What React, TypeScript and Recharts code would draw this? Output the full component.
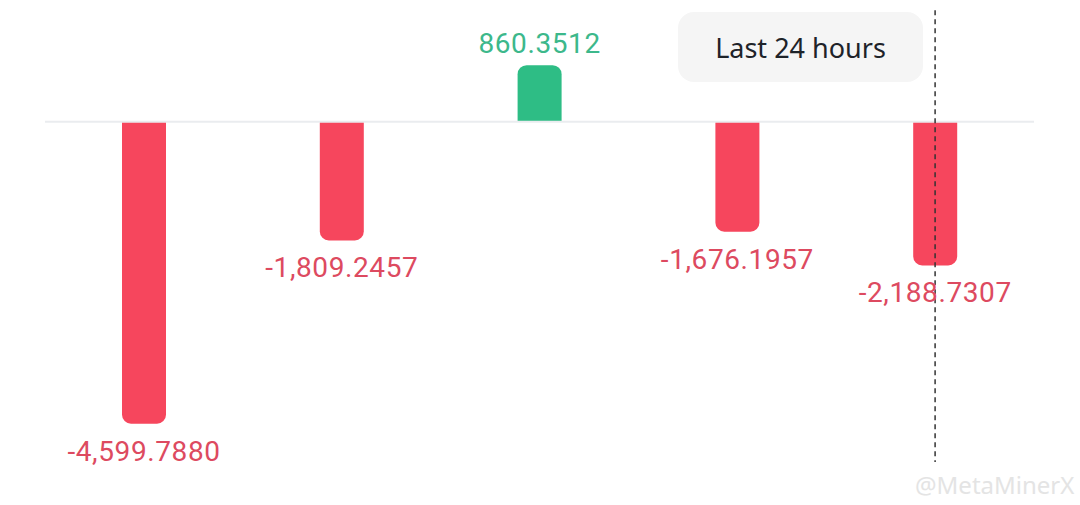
import React from 'react'
import { BarChart, Bar, Cell, XAxis, YAxis, ReferenceLine, LabelList } from 'recharts'

const categories = ['P1', 'P2', 'P3', 'P4', 'P5']
const netValues = [-4599.788, -1809.2457, 860.3512, -1676.1957, -2188.7307]
const highlighted = 'P5'
const periodLabel = 'Last 24 hours'

const data = categories.map((name, i) => ({ name, value: netValues[i] }))

const UP = '#2ebd85'
const DOWN = '#f6465d'
const UP_TEXT = '#3cb88b'
const DOWN_TEXT = '#dd4a60'

const fmt = (v: number) =>
  v.toLocaleString('en-US', { minimumFractionDigits: 4, maximumFractionDigits: 4 })

const ValueLabel = (props: any) => {
  const { x, y, width, height, value } = props
  const top = Math.min(y, y + height)
  const bottom = Math.max(y, y + height)
  const positive = value >= 0
  return (
    <text
      x={x + width / 2}
      y={positive ? top - 12 : bottom + 37}
      textAnchor="middle"
      fill={positive ? UP_TEXT : DOWN_TEXT}
      fontSize={28}
      fontFamily="Roboto, sans-serif"
      letterSpacing={0.6}
    >
      {fmt(value)}
    </text>
  )
}

const App: React.FC = () => {
  return (
    <div style={{ position: 'absolute', left: 0, top: 0, width: 1080, height: 505, background: '#fff' }}>
      <BarChart width={1080} height={505} data={data}
        margin={{ top: 56, right: 46, left: 45, bottom: 55 }}>
        <XAxis dataKey="name" hide />
        <YAxis hide domain={[-5000, 1000]} />
        <ReferenceLine y={0} stroke="#eaecef" strokeWidth={2} />
        <Bar dataKey="value" barSize={44} radius={[9, 9, 0, 0]} isAnimationActive={false}>
          {data.map((d) => (
            <Cell key={d.name} fill={d.value >= 0 ? UP : DOWN} />
          ))}
          <LabelList dataKey="value" content={ValueLabel} />
        </Bar>
        <ReferenceLine
          segment={[{ x: highlighted, y: 1697 }, { x: highlighted, y: -5183 }]}
          ifOverflow="visible"
          stroke="#333"
          strokeWidth={1.5}
          strokeDasharray="5 4"
        />
      </BarChart>
      <div style={{
        position: 'absolute', left: 678, top: 12, width: 245, height: 70,
        background: '#f5f5f5', borderRadius: 16, display: 'flex',
        alignItems: 'center', justifyContent: 'center',
        fontFamily: '"Noto Sans", sans-serif', fontSize: 27, color: '#1e2329'
      }}>
        {periodLabel}
      </div>
      <div style={{
        position: 'absolute', left: 915, top: 468, fontFamily: '"Noto Sans", sans-serif',
        fontSize: 24, color: '#e4e4e4'
      }}>
        @MetaMinerX
      </div>
    </div>
  )
}

export default App
